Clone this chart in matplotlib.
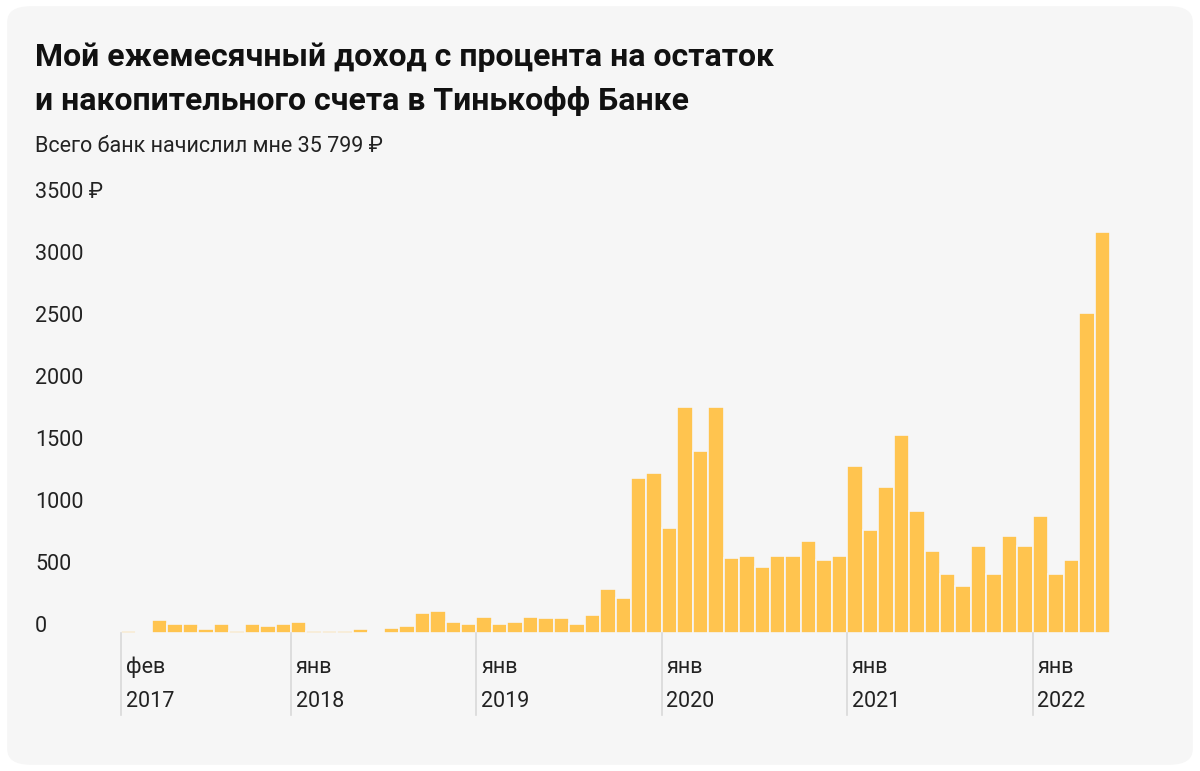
import matplotlib.pyplot as plt
from matplotlib.patches import FancyBboxPatch
import matplotlib.transforms as mtransforms

# monthly interest, feb 2017 .. may 2022
values_2017 = [14, 6, 101, 75, 75, 29, 75, 14, 75, 58, 75]
values_2018 = [89, 14, 14, 14, 29, 6, 43, 58, 161, 176, 89, 75]
values_2019 = [132, 75, 89, 132, 118, 118, 75, 147, 354, 279, 1248, 1290]
values_2020 = [843, 1822, 1471, 1822, 607, 617, 536, 617, 617, 745, 590, 617]
values_2021 = [1346, 830, 1180, 1600, 982, 661, 479, 381, 702, 479, 786, 702]
values_2022 = [941, 479, 590, 2578, 3237]
values = values_2017 + values_2018 + values_2019 + values_2020 + values_2021 + values_2022

tick_pos = [0, 11, 23, 35, 47, 59]
tick_month = ['фев', 'янв', 'янв', 'янв', 'янв', 'янв']
tick_year = ['2017', '2018', '2019', '2020', '2021', '2022']
y_ticks = [0, 500, 1000, 1500, 2000, 2500, 3000, 3500]
y_labels = ['0', '500', '1000', '1500', '2000', '2500', '3000', '3500 ₽']

plt.rcParams['font.family'] = 'Roboto'
fig = plt.figure(figsize=(12, 7.71), dpi=100)
fig.patch.set_facecolor('white')
card = FancyBboxPatch((0.006, 0.008), 0.988, 0.984, boxstyle='round,pad=0,rounding_size=0.02',
                      transform=fig.transFigure, facecolor='#f6f6f6', edgecolor='none', zorder=-10)
fig.patches.append(card)

fig.text(35 / 1200, 1 - 57 / 771, 'Мой ежемесячный доход с процента на остаток', fontsize=23,
         fontweight='bold', va='center', ha='left', color='#111111')
fig.text(35 / 1200, 1 - 101 / 771, 'и накопительного счета в Тинькофф Банке', fontsize=23,
         fontweight='bold', va='center', ha='left', color='#111111')
fig.text(35 / 1200, 1 - 146 / 771, 'Всего банк начислил мне 35 799 ₽', fontsize=15.5,
         va='center', ha='left', color='#222222')

ax = fig.add_axes([121 / 1200, 1 - 633 / 771, 989 / 1200, 434 / 771])
ax.set_zorder(5)
ax.set_facecolor('none')
ax.bar(range(len(values)), values, width=1, align='edge', color='#ffc44f',
       edgecolor='#f6f6f6', linewidth=1.2)
ax.set_xlim(0, len(values))
ax.set_ylim(0, 3500)
for s in ax.spines.values():
    s.set_visible(False)
ax.set_xticks([])
ax.set_yticks([])

trans_y = mtransforms.blended_transform_factory(fig.transFigure, ax.transData)
for v, lab in zip(y_ticks, y_labels):
    ax.text(35 / 1200, v + 50, lab, transform=trans_y, fontsize=15.5, va='center',
            ha='left', color='#222222')

trans_x = mtransforms.blended_transform_factory(ax.transData, ax.transAxes)
for p, m, yr in zip(tick_pos, tick_month, tick_year):
    ax.plot([p, p], [0, -0.19], transform=trans_x, color='#d8d8d8', lw=1.2, clip_on=False)
    ax.text(p + 0.3, -0.08, m, transform=trans_x, fontsize=15.5, va='center', ha='left', color='#222222')
    ax.text(p + 0.3, -0.158, yr, transform=trans_x, fontsize=15.5, va='center', ha='left', color='#222222')

fig.savefig('out.png', dpi=100, facecolor='white')
